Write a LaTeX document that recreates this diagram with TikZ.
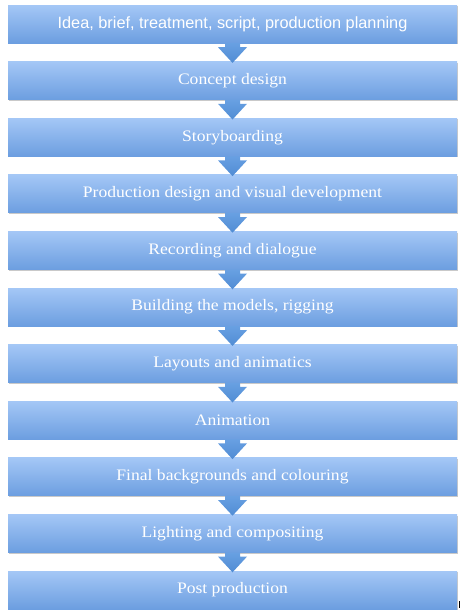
\documentclass[tikz,border=0pt]{standalone}
\usepackage{fontspec}
\setmainfont{Liberation Serif}[FakeStretch=1.1]
\newfontfamily\headfont{Liberation Sans}
\usetikzlibrary{calc,shadows}
\definecolor{boxtop}{RGB}{164,199,246}
\definecolor{boxbot}{RGB}{108,158,224}
\definecolor{arrtop}{RGB}{104,160,226}
\definecolor{arrbot}{RGB}{80,140,212}
\tikzset{
  stagebox/.style={rectangle, minimum width=449pt, minimum height=38pt, inner sep=0pt,
    top color=boxtop, bottom color=boxbot, draw=none, text=white,
    font=\fontsize{16}{18}\selectfont,
    drop shadow={shadow xshift=0.8pt, shadow yshift=-1.2pt, opacity=0.35, fill=black!60}},
  headtext/.style={font=\headfont\fontsize{16.3}{18}\selectfont},
  blockarrow/.style={top color=arrtop, bottom color=arrbot, draw=none}
}
\begin{document}
\begin{tikzpicture}[x=1pt,y=-1pt]
\useasboundingbox (0,0) rectangle (462,611);
\fill[white] (0,0) rectangle (462,611);
\node[stagebox, headtext] (b0) at (232.5, 24) {Idea, brief, treatment, script, production planning};
\foreach \t [count=\i from 1] in {
  Concept design,
  Storyboarding,
  Production design and visual development,
  Recording and dialogue,
  {Building the models, rigging},
  Layouts and animatics,
  Animation,
  Final backgrounds and colouring,
  Lighting and compositing,
  Post production}{
  \node[stagebox] (b\i) at (232.5, 24+56.6*\i) {\t};
}
\foreach \i [evaluate=\i as \j using int(\i+1)] in {0,...,9}{
  \path[blockarrow] ($(b\i.south)+(-7.5,0)$) -- ++(15,0) -- ++(0,4) -- ++(7,0)
     -- ($(b\j.north)+(0,1.5)$) -- ($(b\i.south)+(-14.5,4)$) -- ++(7,0) -- cycle;
}
\coordinate (cur) at (459.5,601);
\draw[black, line width=1pt] (cur) -- ++(0,7);
\end{tikzpicture}
\end{document}
